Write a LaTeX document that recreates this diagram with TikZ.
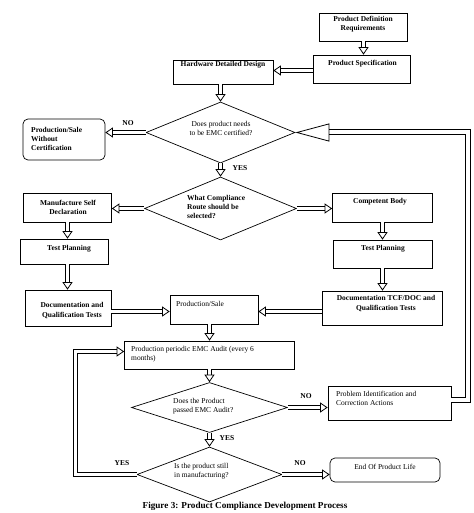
\documentclass[tikz,border=0pt]{standalone}
\usepackage{fontspec}
\setmainfont{Liberation Serif}
\usetikzlibrary{arrows.meta,shapes.geometric,calc}
\begin{document}
\begin{tikzpicture}[x=1bp,y=-1bp,
  box/.style={draw, line width=0.7bp, inner sep=0},
  rbox/.style={box, rounded corners=5bp},
  dia/.style={draw, line width=0.7bp, shape=diamond, inner sep=0},
  txt/.style={inner sep=0, font=\fontsize{7.5}{9.2}\selectfont},
  btxt/.style={inner sep=0, font=\fontsize{7.5}{9.2}\selectfont\bfseries},
  lab/.style={inner sep=0, font=\fontsize{7.5}{9}\selectfont\bfseries},
  barrow/.style={draw, double, double distance=3bp, line width=1bp, line join=miter,
    -{Triangle[open, length=7.5bp, width=10bp, line width=0.8bp]}},
  bigarrow/.style={draw, double, double distance=4bp, line width=1bp, line join=miter,
    -{Triangle[open, length=34bp, width=18bp, line width=0.8bp]}}]
\useasboundingbox (0,0) rectangle (474,513);

% boxes
\node[box, minimum width=88bp, minimum height=28bp] (pdr) at (363.5,27) {};
\node[box, minimum width=97bp, minimum height=28bp] (ps) at (361.5,69) {};
\node[box, minimum width=100bp, minimum height=24bp] (hdd) at (223,72) {};
\node[rbox, minimum width=82bp, minimum height=41bp] (pswc) at (64,139.5) {};
\node[box, minimum width=88bp, minimum height=29bp] (msd) at (67.5,207.5) {};
\node[box, minimum width=100bp, minimum height=29bp] (cb) at (382.5,207.5) {};
\node[box, minimum width=88bp, minimum height=25bp] (tpl) at (64,251.5) {};
\node[box, minimum width=99bp, minimum height=28bp] (tpr) at (382.5,254) {};
\node[box, minimum width=86bp, minimum height=36bp] (dq) at (68,308) {};
\node[box, minimum width=88bp, minimum height=29bp] (pss) at (214,309.5) {};
\node[box, minimum width=120bp, minimum height=34bp] (tcf) at (382,308) {};
\node[box, minimum width=170bp, minimum height=28bp] (audit) at (209.5,355) {};
\node[box, minimum width=123bp, minimum height=34bp] (pi) at (389.5,403) {};
\node[rbox, minimum width=110bp, minimum height=24bp] (eopl) at (385,470) {};

% diamonds
\node[dia, minimum width=149bp, minimum height=61bp] (d1) at (220.5,132.5) {};
\node[dia, minimum width=152bp, minimum height=63bp] (d2) at (220.5,208.5) {};
\node[dia, minimum width=156bp, minimum height=50bp] (d3) at (209.5,407.5) {};
\node[dia, minimum width=145bp, minimum height=55bp] (d4) at (209.5,474.5) {};

% texts
\node[btxt, align=center] (pdrt) at (363,24.5) {Product Definition\\Requirements};
\node[btxt] (pst) at (362.5,64) {Product Specification};
\node[btxt] (hddt) at (223,64.5) {Hardware Detailed Design};
\node[btxt, align=left, anchor=west] (pswct) at (31,139) {Production/Sale\\Without\\Certification};
\node[btxt, align=center] (msdt) at (68,207.5) {Manufacture Self\\Declaration};
\node[btxt] (cbt) at (380,202) {Competent Body};
\node[btxt] (tplt) at (69,249) {Test Planning};
\node[btxt] (tprt) at (383,249) {Test Planning};
\node[btxt, align=center] (dqt) at (72,310.5) {Documentation and\\Qualification Tests};
\node[txt, anchor=west] (psst) at (176,304) {Production/Sale};
\node[btxt, align=center] (tcft) at (386,303.5) {Documentation TCF/DOC and\\Qualification Tests};
\node[txt, align=left, anchor=west] (auditt) at (131,354) {Production periodic EMC Audit (every 6\\months)};
\node[txt, align=center] (d1t) at (221,128.5) {Does product needs\\to be EMC certified?};
\node[btxt, align=left, anchor=west] (d2t) at (187,207) {What Compliance\\Route should be\\selected?};
\node[txt, align=left, anchor=west] (d3t) at (173,406) {Does the Product\\passed EMC Audit?};
\node[txt, align=left, anchor=west] (pit) at (336,398) {Problem Identification and\\Correction Actions};
\node[txt, align=left, anchor=west] (d4t) at (174,471.5) {Is the product still\\in manufacturing?};
\node[txt] (eoplt) at (385,467) {End Of Product Life};

% labels
\node[lab] (no1) at (128,123) {NO};
\node[lab] (yes1) at (240,168) {YES};
\node[lab] (no3) at (306,396) {NO};
\node[lab] (yes3) at (227,438) {YES};
\node[lab] (no4) at (300,463) {NO};
\node[lab] (yes4) at (122,463) {YES};
\node[inner sep=0, font=\fontsize{9.2}{11}\selectfont\bfseries] (cap) at (245,506) {Figure 3: Product Compliance Development Process};

% coordinates
\coordinate (lp) at (75.5,351.5);
\coordinate (fbb) at (468,400);
\coordinate (fbt) at (468,132.5);

% arrows
\draw[barrow] (pdr.south) -- (pdr.south |- ps.north);
\draw[barrow] (ps.west |- 0,70.5) -- (hdd.east |- 0,70.5);
\draw[barrow] (hdd.south -| d1.north) -- (d1.north);
\draw[barrow] (d1.west) -- (d1.west -| pswc.east);
\draw[barrow] (d1.south) -- (d1.south |- d2.north);
\draw[barrow] (d2.west) -- (d2.west -| msd.east);
\draw[barrow] (d2.east) -- (d2.east -| cb.west);
\draw[barrow] (msd.south) -- (msd.south |- tpl.north);
\draw[barrow] (tpl.south -| msd.south) -- (dq.north -| msd.south);
\draw[barrow] (cb.south) -- (cb.south |- tpr.north);
\draw[barrow] (tpr.south -| cb.south) -- (tcf.north -| cb.south);
\draw[barrow] (dq.east |- 0,311.5) -- (pss.west |- 0,311.5);
\draw[barrow] (tcf.west |- 0,311.5) -- (pss.east |- 0,311.5);
\draw[barrow] (pss.south -| audit.north) -- (audit.north);
\draw[barrow] (audit.south -| d3.north) -- (d3.north);
\draw[barrow] (d3.east) -- (d3.east -| pi.west);
\draw[barrow] (d3.south) -- (d3.south |- d4.north);
\draw[barrow] (d4.east) -- (d4.east -| eopl.west);
\draw[barrow] (d4.west) -| (lp) -- (lp -| audit.west);
\draw[bigarrow] (pi.east |- fbb) -- (fbb) -- (fbt) -- (d1.east);
\end{tikzpicture}
\end{document}
